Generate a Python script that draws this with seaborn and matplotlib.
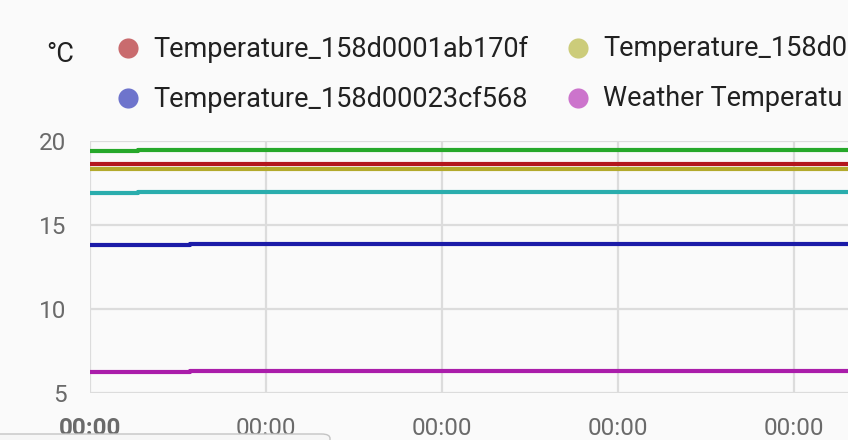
import matplotlib
matplotlib.use('Agg')
import matplotlib.pyplot as plt
import matplotlib.dates as mdates
from matplotlib.lines import Line2D
from matplotlib.patches import FancyBboxPatch
import pandas as pd
import seaborn as sns

# ── Data ─────────────────────────────────────────────────────────────────────
START = pd.Timestamp('2021-01-01 00:00')
SPAN_DAYS = 758 / 176

SERIES = ['Temperature_158d0001ab170f', 'Temperature_158d0...',
          'Temperature_158d00023cf568', 'Weather Temperatu...',
          'Temperature_green', 'Temperature_teal']
# hours after start at which each reading was taken
READ_HOURS = [
    [0.0],
    [0.0],
    [0.0, 13.7],
    [0.0, 13.7],
    [0.0, 6.5],
    [0.0, 6.5],
]
READ_VALUES = [
    [18.65],
    [18.35],
    [13.83, 13.85],
    [6.26, 6.28],
    [19.42, 19.44],
    [16.92, 16.94],
]
LINE_COLORS = ['#b3161d', '#b3aa2c', '#1b1ba8', '#aa1daa', '#26a82a', '#2aadad']
DOT_COLORS = ['#c96b6e', '#cccc7a', '#6e74cc', '#cc74cc']

# ── Build long frame ─────────────────────────────────────────────────────────
end = START + pd.Timedelta(days=SPAN_DAYS)
rows = []
for name, hrs, vals in zip(SERIES, READ_HOURS, READ_VALUES):
    for h, v in zip(hrs, vals):
        rows.append({'time': START + pd.Timedelta(hours=h), 'value': v, 'entity': name})
    rows.append({'time': end, 'value': vals[-1], 'entity': name})
df = pd.DataFrame(rows)

# ── Plot ─────────────────────────────────────────────────────────────────────
sns.set_style('white')
plt.rcParams['font.family'] = ['Roboto', 'DejaVu Sans']

W, H = 848, 440
fig = plt.figure(figsize=(W / 100, H / 100), dpi=100, facecolor='#fafafa')
ax = fig.add_axes([90 / W, (H - 393) / H, 758 / W, 252 / H], facecolor='#fafafa')

grid_c = '#dcdcdc'
ax.grid(True, color=grid_c, lw=1.6)
ax.set_axisbelow(True)

sns.lineplot(data=df, x='time', y='value', hue='entity', hue_order=SERIES,
             palette=LINE_COLORS, drawstyle='steps-post', lw=3,
             estimator=None, legend=False, ax=ax)

ax.set_xlim(START, end)
ax.set_ylim(5, 20)
ax.set_yticks([5, 10, 15, 20])
ax.xaxis.set_major_locator(mdates.DayLocator())
ax.xaxis.set_major_formatter(mdates.DateFormatter('%H:%M'))
ax.set_xlabel('')
ax.set_ylabel('')
for s in ax.spines.values():
    s.set_visible(False)

ax.tick_params(axis='y', length=16, width=1.6, color=grid_c, pad=1,
               labelsize=17.5, labelcolor='#6a6a6a')
ax.tick_params(axis='x', length=15, width=1.6, color=grid_c, pad=2,
               labelsize=17.5, labelcolor='#6a6a6a')
fig.canvas.draw()
xl = ax.get_xticklabels()
xl[0].set_fontweight('bold')

# ── Legend (HA style, runs off the right edge) ───────────────────────────────
def fy(py):
    return 1 - py / H

fig.text(46 / W, fy(54), '°C', fontsize=19.5, color='#212121', va='center')
legend_pos = [(128, 48), (578, 48), (128, 98), (578, 98)]
for (px, py), name, c in zip(legend_pos, SERIES[:4], DOT_COLORS):
    fig.add_artist(Line2D([px / W], [fy(py)], marker='o', ms=14.5, color=c,
                          mec='none', transform=fig.transFigure))
    fig.text((px + 25) / W, fy(py + 1), name.rstrip('.'), fontsize=19.5,
             color='#212121', va='center', ha='left')

# card edge peeking in at the bottom left
fig.add_artist(FancyBboxPatch((-10 / W, fy(448)), 340 / W, 14 / H,
                              boxstyle='round,pad=0,rounding_size=0.01',
                              facecolor='#f6f6f6', edgecolor='#c4c4c4', lw=1,
                              transform=fig.transFigure))

fig.savefig('out.png', dpi=100, facecolor=fig.get_facecolor())
